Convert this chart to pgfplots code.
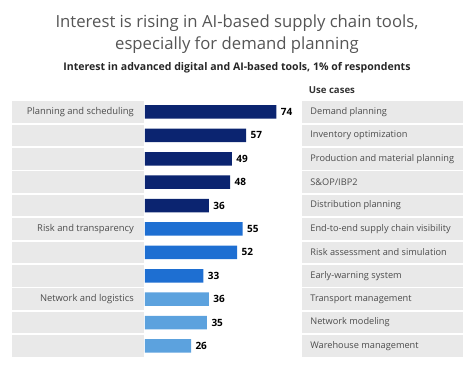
\documentclass[border=0pt]{standalone}
\usepackage{pgfplots}
\pgfplotsset{compat=1.18}
\usepackage{fontspec}
\setmainfont{Open Sans}
\definecolor{navy}{HTML}{0B2470}
\definecolor{midblue}{HTML}{1E6FD2}
\definecolor{lightblue}{HTML}{5CA2DE}
\definecolor{band}{HTML}{E9E9E9}
\definecolor{titlegray}{HTML}{555555}
\begin{document}
\begin{tikzpicture}
\begin{axis}[
  scale only axis, width=451pt, height=257.4pt,
  xmin=-74.9, xmax=178.9, ymin=-0.5, ymax=10.5, y dir=reverse,
  axis lines=none, xbar, bar width=13.5pt, bar shift=0pt,
  clip=false,
  nodes near coords={\textbf{\pgfmathprintnumber[assume math mode=true]{\pgfplotspointmeta}}},
  every node near coord/.append style={anchor=west, font=\fontsize{10}{12}\selectfont, text=black, xshift=1pt},
]
\path (axis cs:-81.49,-4.786) rectangle (axis cs:185.26,10.983);
\pgfplotsinvokeforeach{0,...,10}{
  \fill[band] (axis cs:-74.9,#1-0.46) rectangle (axis cs:-0.5,#1+0.46);
  \fill[band] (axis cs:88.7,#1-0.46) rectangle (axis cs:178.9,#1+0.46);
}
\addplot[fill=navy, draw=none] coordinates {(74,0) (57,1) (49,2) (48,3) (36,4)};
\addplot[fill=midblue, draw=none] coordinates {(55,5) (52,6) (33,7)};
\addplot[fill=lightblue, draw=none] coordinates {(36,8) (35,9) (26,10)};
\node[anchor=base,font=\fontsize{16.7}{20}\selectfont,text=titlegray] at (axis cs:51.86,-3.620) {Interest is rising in AI-based supply chain tools,};
\node[anchor=base,font=\fontsize{16.7}{20}\selectfont,text=titlegray] at (axis cs:51.86,-2.671) {especially for demand planning};
\node[anchor=base,font=\fontsize{10.55}{12}\selectfont\bfseries,text=black!85] at (axis cs:51.86,-1.765) {Interest in advanced digital and AI-based tools, 1\% of respondents};
\node[anchor=base,font=\fontsize{9.6}{11}\selectfont\bfseries,text=black!80] at (axis cs:105.3,-0.799) {Use cases};
\begin{scope}[every node/.style={font=\fontsize{9.4}{11}\selectfont, text=black!70}]
\node[anchor=east] at (axis cs:-4.2,0) {Planning and scheduling};
\node[anchor=east] at (axis cs:-4.2,5) {Risk and transparency};
\node[anchor=east] at (axis cs:-4.2,8) {Network and logistics};
\end{scope}
\begin{scope}[every node/.style={font=\fontsize{9.2}{11}\selectfont, text=black!70}]
\node[anchor=west] at (axis cs:91.2,0) {Demand planning};
\node[anchor=west] at (axis cs:91.2,1) {Inventory optimization};
\node[anchor=west] at (axis cs:91.2,2) {Production and material planning};
\node[anchor=west] at (axis cs:91.2,3) {S\&OP/IBP2};
\node[anchor=west] at (axis cs:91.2,4) {Distribution planning};
\node[anchor=west] at (axis cs:91.2,5) {End-to-end supply chain visibility};
\node[anchor=west] at (axis cs:91.2,6) {Risk assessment and simulation};
\node[anchor=west] at (axis cs:91.2,7) {Early-warning system};
\node[anchor=west] at (axis cs:91.2,8) {Transport management};
\node[anchor=west] at (axis cs:91.2,9) {Network modeling};
\node[anchor=west] at (axis cs:91.2,10) {Warehouse management};
\end{scope}
\end{axis}
\end{tikzpicture}
\end{document}
